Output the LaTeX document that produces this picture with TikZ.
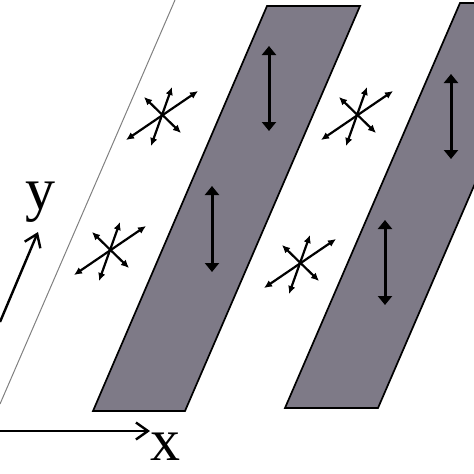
\documentclass[tikz,border=0pt]{standalone}
\usepackage{fontspec}
\setmainfont{Liberation Serif}
\usetikzlibrary{arrows.meta}

\definecolor{bandgray}{RGB}{126,122,135}

\begin{document}
\begin{tikzpicture}[x=1pt,y=-1pt,
  band/.style={fill=bandgray,draw=black,line width=1.7pt,line join=miter},
  axis/.style={line width=2.4pt,-{Straight Barb[length=12pt,width=17pt,line width=2.4pt]}},
  spin/.style={line width=2.2pt,{Latex[length=8pt,width=7.5pt]}-{Latex[length=8pt,width=7.5pt]}},
  moment/.style={line width=3pt,{Triangle[length=9pt,width=14pt]}-{Triangle[length=9pt,width=14pt]}},
  lbl/.style={inner sep=0pt,anchor=base,font=\fontsize{60}{60}\selectfont}]
\clip (0,0) rectangle (474,474);

% the two stripes
\draw[band] (93,411) -- (185,411) -- (360,6) -- (267,6) -- cycle;
\draw[band] (285,408) -- (378,408) -- (553,3) -- (460,3) -- cycle;

% thin boundary
\draw[gray,line width=1pt] (175,0) -- (0,404);

% axes
\coordinate (o) at (0,431);
\coordinate (xend) at (150,431);
\coordinate (ystart) at (0,322);
\coordinate (yend) at (38,232);
\draw[axis] (o) -- (xend);
\draw[axis] (ystart) -- (yend);
\node[lbl] (xlbl) at (165,460) {x};
\node[lbl] (ylbl) at (40,209) {y};

% disordered moments
\foreach \cx/\cy in {162/115,110/250,357/115,300/263}{
  \begin{scope}[shift={(\cx,\cy)}]
    \draw[spin] (-36,25) -- (36,-24);
    \draw[spin] (-11,31) -- (10,-28);
    \draw[spin] (-18,-18) -- (19,18);
  \end{scope}
}

% ordered moments in the stripes
\draw[moment] (269,46) -- (269,131);
\draw[moment] (212,186) -- (212,272);
\draw[moment] (451,74) -- (451,159);
\draw[moment] (385,220) -- (385,305);
\end{tikzpicture}
\end{document}
